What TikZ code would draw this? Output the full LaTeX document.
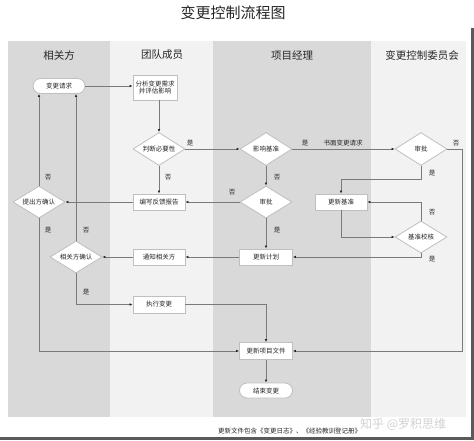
\documentclass[tikz,border=0pt]{standalone}
\usepackage{fontspec}
\setmainfont{Noto Sans CJK SC}
\usetikzlibrary{shapes.geometric,arrows.meta}
\definecolor{lanedark}{HTML}{D9D9D9}
\definecolor{lanelight}{HTML}{F2F2F2}
\definecolor{conn}{HTML}{7A7A7A}
\definecolor{nodeborder}{HTML}{BFBFBF}
\definecolor{txt}{HTML}{262626}
\definecolor{frame}{HTML}{5A5A5A}
\tikzset{
  boxnode/.style={draw=nodeborder, line width=0.8pt, fill=white, minimum width=52pt, minimum height=16pt, inner sep=1pt, font=\fontsize{6.5}{7.5}\selectfont, text=txt, align=center},
  termnode/.style={boxnode, rounded corners=7.5pt, minimum height=15pt},
  decnode/.style={diamond, draw=nodeborder, line width=0.8pt, fill=white, minimum width=52pt, minimum height=33pt, inner sep=0pt, shape aspect=1.58, font=\fontsize{6.5}{7.5}\selectfont, text=txt},
  flow/.style={draw=conn, line width=0.8pt, -{Latex[length=3pt,width=2.6pt,color=black!85]}},
  lbl/.style={font=\fontsize{6.5}{7.5}\selectfont, text=txt, inner sep=0pt},
  hdr/.style={font=\fontsize{10.5}{12}\selectfont, text=txt, inner sep=0pt}
}
\begin{document}
\begin{tikzpicture}[x=1pt,y=-1pt]
\useasboundingbox (0,0) rectangle (474,440);
\fill[white] (0,0) rectangle (474,440);
% lanes
\fill[lanedark] (8,41) rectangle (110,417);
\fill[lanelight] (110,41) rectangle (213,417);
\fill[lanedark] (213,41) rectangle (371,417);
\fill[lanelight] (371,41) rectangle (466,417);
% frame
\fill[frame] (471,28) rectangle (474,440);
\fill[frame] (0,437) rectangle (474,440);
% title and headers
\node[font=\fontsize{15}{17}\selectfont, text=txt] (title) at (233,13) {变更控制流程图};
\node[hdr] (h1) at (59,55) {相关方};
\node[hdr] (h2) at (162,55) {团队成员};
\node[hdr] (h3) at (292,55) {项目经理};
\node[hdr] (h4) at (422,55) {变更控制委员会};
% nodes
\node[termnode] (req) at (59,86) {变更请求};
\node[boxnode, minimum width=44pt, minimum height=25pt] (ana) at (155,87.5) {分析变更需求\\并评估影响};
\node[decnode] (dec1) at (159,149) {判断必要性};
\node[decnode] (imp) at (266,149) {影响基准};
\node[decnode] (ccb) at (421,149) {审批};
\node[boxnode] (ubase) at (341,202) {更新基准};
\node[decnode, minimum height=32pt] (chk) at (421,237) {基准校核};
\node[decnode, minimum height=32pt] (pmapp) at (266,202) {审批};
\node[boxnode, minimum width=53pt] (plan) at (266,257) {更新计划};
\node[boxnode] (fb) at (159,202) {编写反馈报告};
\node[decnode, minimum height=32pt] (conf1) at (39,202) {提出方确认};
\node[decnode, minimum height=32pt] (conf2) at (76,257) {相关方确认};
\node[boxnode] (notify) at (159,257) {通知相关方};
\node[boxnode, minimum height=17pt] (exec) at (159,304.5) {执行变更};
\node[boxnode, minimum width=53pt, minimum height=17pt] (doc) at (266,351) {更新项目文件};
\node[termnode, minimum width=53pt] (endn) at (266,390.5) {结束变更};
% corner coordinates
\coordinate (c1) at (462,149);
\coordinate (c2) at (462,351);
\coordinate (c3) at (421,179);
\coordinate (c4) at (341,179);
\coordinate (c5) at (341,237);
\coordinate (c6) at (421,202);
\coordinate (c7) at (421,257);
\coordinate (c8) at (39,351);
\coordinate (c9) at (76,304.5);
\coordinate (c10) at (266,304.5);
% connectors
\draw[flow] (req.east) -- (req.east -| ana.west);
\draw[flow] (dec1 |- ana.south) -- (dec1.north);
\draw[flow] (dec1.east) -- (imp.west);
\draw[flow] (imp.east) -- (ccb.west);
\draw[flow] (ccb.east) -- (c1) -- (c2) -- (doc.east);
\draw[flow] (ccb.south) -- (c3) -- (c4) -- (ubase.north);
\draw[flow] (ubase.south) -- (c5) -- (chk.west);
\draw[flow] (chk.north) -- (c6) -- (ubase.east);
\draw[flow] (chk.south) -- (c7) -- (plan.east);
\draw[flow] (imp.south) -- (pmapp.north);
\draw[flow] (pmapp.west) -- (fb.east);
\draw[flow] (pmapp.south) -- (plan.north);
\draw[flow] (dec1.south) -- (fb.north);
\draw[flow] (fb.west) -- (conf1.east);
\draw[flow] (conf1.north) -- (conf1.north |- req.south);
\draw[flow] (conf1.south) -- (c8) -- (doc.west);
\draw[flow] (plan.west) -- (notify.east);
\draw[flow] (notify.west) -- (conf2.east);
\draw[flow] (conf2.north) -- (conf2.north |- req.south);
\draw[flow] (conf2.south) -- (c9) -- (exec.west);
\draw[flow] (exec.east) -- (c10) -- (doc.north);
\draw[flow] (doc.south) -- (endn.north);
% labels
\node[lbl] (l1) at (190,143) {是};
\node[lbl] (l2) at (168,177) {否};
\node[lbl] (l3) at (305,143) {是};
\node[lbl] (l4) at (343,143) {书面变更请求};
\node[lbl] (l5) at (456,143) {否};
\node[lbl] (l6) at (432,173) {是};
\node[lbl] (l7) at (432,212) {否};
\node[lbl] (l8) at (432,259) {是};
\node[lbl] (l9) at (277,177) {否};
\node[lbl] (l10) at (232,192) {否};
\node[lbl] (l11) at (277,230) {是};
\node[lbl] (l12) at (48,177) {否};
\node[lbl] (l13) at (48,230) {是};
\node[lbl] (l14) at (86,230) {否};
\node[lbl] (l15) at (86,292) {是};
% footnote and watermark
\node[lbl, anchor=west] (foot) at (218,431) {更新文件包含《变更日志》、《经验教训登记册》};
\node[font=\fontsize{12}{14}\selectfont, text=black!18, inner sep=0pt, anchor=west] (wm) at (360,424) {知乎 @罗积思维};
\end{tikzpicture}
\end{document}
